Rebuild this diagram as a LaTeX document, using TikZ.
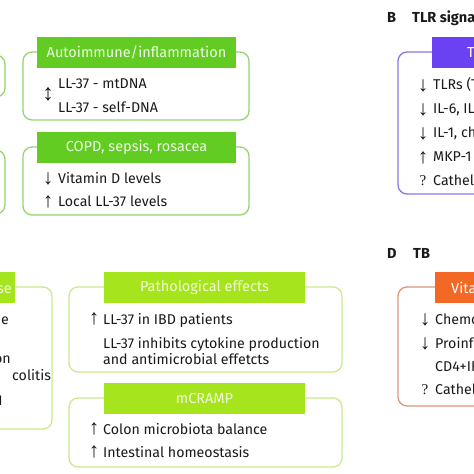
\documentclass[tikz,border=0pt]{standalone}
\usepackage{fontspec}
\setmainfont{Fira Sans}
\newfontfamily\arw{Liberation Serif}
\definecolor{gTop}{HTML}{62CC22}
\definecolor{gTopLine}{HTML}{92D66C}
\definecolor{gTopTxt}{HTML}{EEF9E6}
\definecolor{gBot}{HTML}{A6E41E}
\definecolor{gBotLine}{HTML}{CBEA8E}
\definecolor{gBotTxt}{HTML}{F0FBD6}
\definecolor{pur}{HTML}{6A42F2}
\definecolor{purLine}{HTML}{8C76E4}
\definecolor{org}{HTML}{F26824}
\definecolor{orgLine}{HTML}{D9977A}
\definecolor{ink}{HTML}{1A1A1A}
\begin{document}
\begin{tikzpicture}[x=1pt,y=-1pt,
  boxbase/.style={rectangle,rounded corners=9pt,line width=1.3pt,inner sep=0pt,outer sep=0pt},
  boxTop/.style={boxbase,draw=gTopLine},
  boxBot/.style={boxbase,draw=gBotLine},
  boxPur/.style={boxbase,draw=purLine},
  boxOrg/.style={boxbase,draw=orgLine},
  hdr/.style={rectangle,inner sep=0pt,outer sep=0pt,minimum height=31pt,font=\fontsize{14.5}{16}\selectfont},
  hdrTop/.style={hdr,fill=gTop,text=gTopTxt},
  hdrBot/.style={hdr,fill=gBot,text=gBotTxt},
  hdrPur/.style={hdr,fill=pur,text=white},
  hdrOrg/.style={hdr,fill=org,text=white},
  txt/.style={anchor=base west,inner sep=0pt,text=ink,font=\fontsize{14.2}{16}\selectfont},
  ar/.style={anchor=center,inner sep=0pt,text=ink,font=\arw\fontsize{21}{22}\selectfont},
  arbig/.style={anchor=center,inner sep=0pt,text=ink,font=\arw\fontsize{23}{24}\selectfont},
  qm/.style={anchor=base,inner sep=0pt,text=ink,font=\arw\fontsize{15}{16}\selectfont},
  ttl/.style={anchor=base west,inner sep=0pt,text=ink,font=\fontsize{14.5}{16}\selectfont\bfseries}
]
\useasboundingbox (0,0) rectangle (474,474);
\clip (0,0) rectangle (474,474);
\fill[white] (0,0) rectangle (474,474);

% left partial boxes (top)
\node[boxTop,anchor=north east,minimum width=120pt,minimum height=42pt] (lbA) at (5,55) {};
\node[boxTop,anchor=north east,minimum width=120pt,minimum height=64pt] (lbB) at (5,150) {};

% Autoimmune/inflammation
\node[boxTop,anchor=north west,minimum width=226pt,minimum height=68pt] (autoBox) at (23,52) {};
\node[hdrTop,anchor=north west,minimum width=199pt] (autoHdr) at (37,37) {Autoimmune/inflammation};
\node[arbig] (autoAr) at (48,94) {↕};
\node[txt] (autoT1) at (58,88) {LL-37 - mtDNA};
\node[txt] (autoT2) at (58,112) {LL-37 - self-DNA};

% COPD
\node[boxTop,anchor=north west,minimum width=226pt,minimum height=68pt] (copdBox) at (23,147) {};
\node[hdrTop,anchor=north west,minimum width=199pt] (copdHdr) at (37,132) {COPD, sepsis, rosacea};
\node[ar] (copdAr1) at (48,179) {↓};
\node[txt] (copdT1) at (58,183) {Vitamin D levels};
\node[ar] (copdAr2) at (48,202) {↑};
\node[txt] (copdT2) at (58,206) {Local LL-37 levels};

% B TLR signalling
\node[ttl] (bLet) at (387,22) {B};
\node[ttl] (bTtl) at (412,22) {TLR signaling};
\node[boxPur,anchor=north west,minimum width=200pt,minimum height=142pt] (tlrBox) at (398,52) {};
\node[hdrPur,anchor=north west,minimum width=140pt] (tlrHdr) at (432,37) {};
\node[anchor=west,inner sep=0pt,text=white,font=\fontsize{14.5}{16}\selectfont] (tlrHt) at (467,52.5) {TLR};
\node[ar] (tlrA1) at (423,86) {↓};
\node[txt] (tlrT1) at (433,89) {TLRs (TLR2, TLR4)};
\node[ar] (tlrA2) at (423,110) {↓};
\node[txt] (tlrT2) at (433,113) {IL-6, IL-8};
\node[ar] (tlrA3) at (423,134) {↓};
\node[txt] (tlrT3) at (433,137) {IL-1, chemokines};
\node[ar] (tlrA4) at (423,158) {↑};
\node[txt] (tlrT4) at (433,161) {MKP-1};
\node[qm] (tlrA5) at (423,185) {?};
\node[txt] (tlrT5) at (433,185) {Cathelicidin};

% bottom-left partial box
\node[boxBot,anchor=north east,minimum width=150pt,minimum height=142pt] (lbC) at (52,287) {};
\node[hdrBot,anchor=north east,minimum width=120pt] (lbCHdr) at (15,272) {};
\node[anchor=east,inner sep=0pt,text=gBotTxt,font=\fontsize{14.5}{16}\selectfont] (lbCHt) at (12,287.5) {Disease};
\node[anchor=base east,inner sep=0pt,text=ink,font=\fontsize{14.2}{16}\selectfont] (lbT1) at (9,324) {Microbiome};
\node[anchor=base east,inner sep=0pt,text=ink,font=\fontsize{14.2}{16}\selectfont] (lbT2) at (11,363) {Inflammation};
\node[anchor=base west,inner sep=0pt,text=ink,font=\fontsize{14.2}{16}\selectfont] (lbT3) at (12,380) {colitis};
\node[anchor=base east,inner sep=0pt,text=ink,font=\fontsize{14.2}{16}\selectfont] (lbT4) at (3,405) {1};

% Pathological effects
\node[boxBot,anchor=north west,minimum width=273pt,minimum height=85pt] (pathBox) at (69,287) {};
\node[hdrBot,anchor=north west,minimum width=201pt] (pathHdr) at (104,272) {Pathological effects};
\node[ar] (pathAr) at (94,319) {↑};
\node[txt] (pathT1) at (103,324) {LL-37 in IBD patients};
\node[txt] (pathT2) at (103,348) {LL-37 inhibits cytokine production};
\node[txt] (pathT3) at (103,364) {and antimicrobial effetcts};

% mCRAMP
\node[boxBot,anchor=north west,minimum width=273pt,minimum height=69pt] (mcBox) at (69,398) {};
\node[hdrBot,anchor=north west,minimum width=201pt] (mcHdr) at (104,383) {mCRAMP};
\node[ar] (mcAr1) at (94,429) {↑};
\node[txt] (mcT1) at (103,434) {Colon microbiota balance};
\node[ar] (mcAr2) at (94,452) {↑};
\node[txt] (mcT2) at (103,457) {Intestinal homeostasis};

% D TB
\node[ttl] (dLet) at (387,258) {D};
\node[ttl] (dTtl) at (413,258) {TB};
\node[boxOrg,anchor=north west,minimum width=200pt,minimum height=119pt] (tbBox) at (398,287) {};
\node[hdrOrg,anchor=north west,minimum width=140pt] (tbHdr) at (435,272) {};
\node[anchor=west,inner sep=0pt,text=white,font=\fontsize{14.5}{16}\selectfont] (tbHt) at (451,287.5) {Vitamin D};
\node[ar] (tbA1) at (425,320) {↓};
\node[txt] (tbT1) at (435,324) {Chemokines};
\node[ar] (tbA2) at (425,344) {↓};
\node[txt] (tbT2) at (435,348) {Proinflammatory};
\node[txt] (tbT3) at (435,371) {CD4+IFN};
\node[qm] (tbA4) at (425,394) {?};
\node[txt] (tbT4) at (435,394) {Cathelicidin};
\end{tikzpicture}
\end{document}
